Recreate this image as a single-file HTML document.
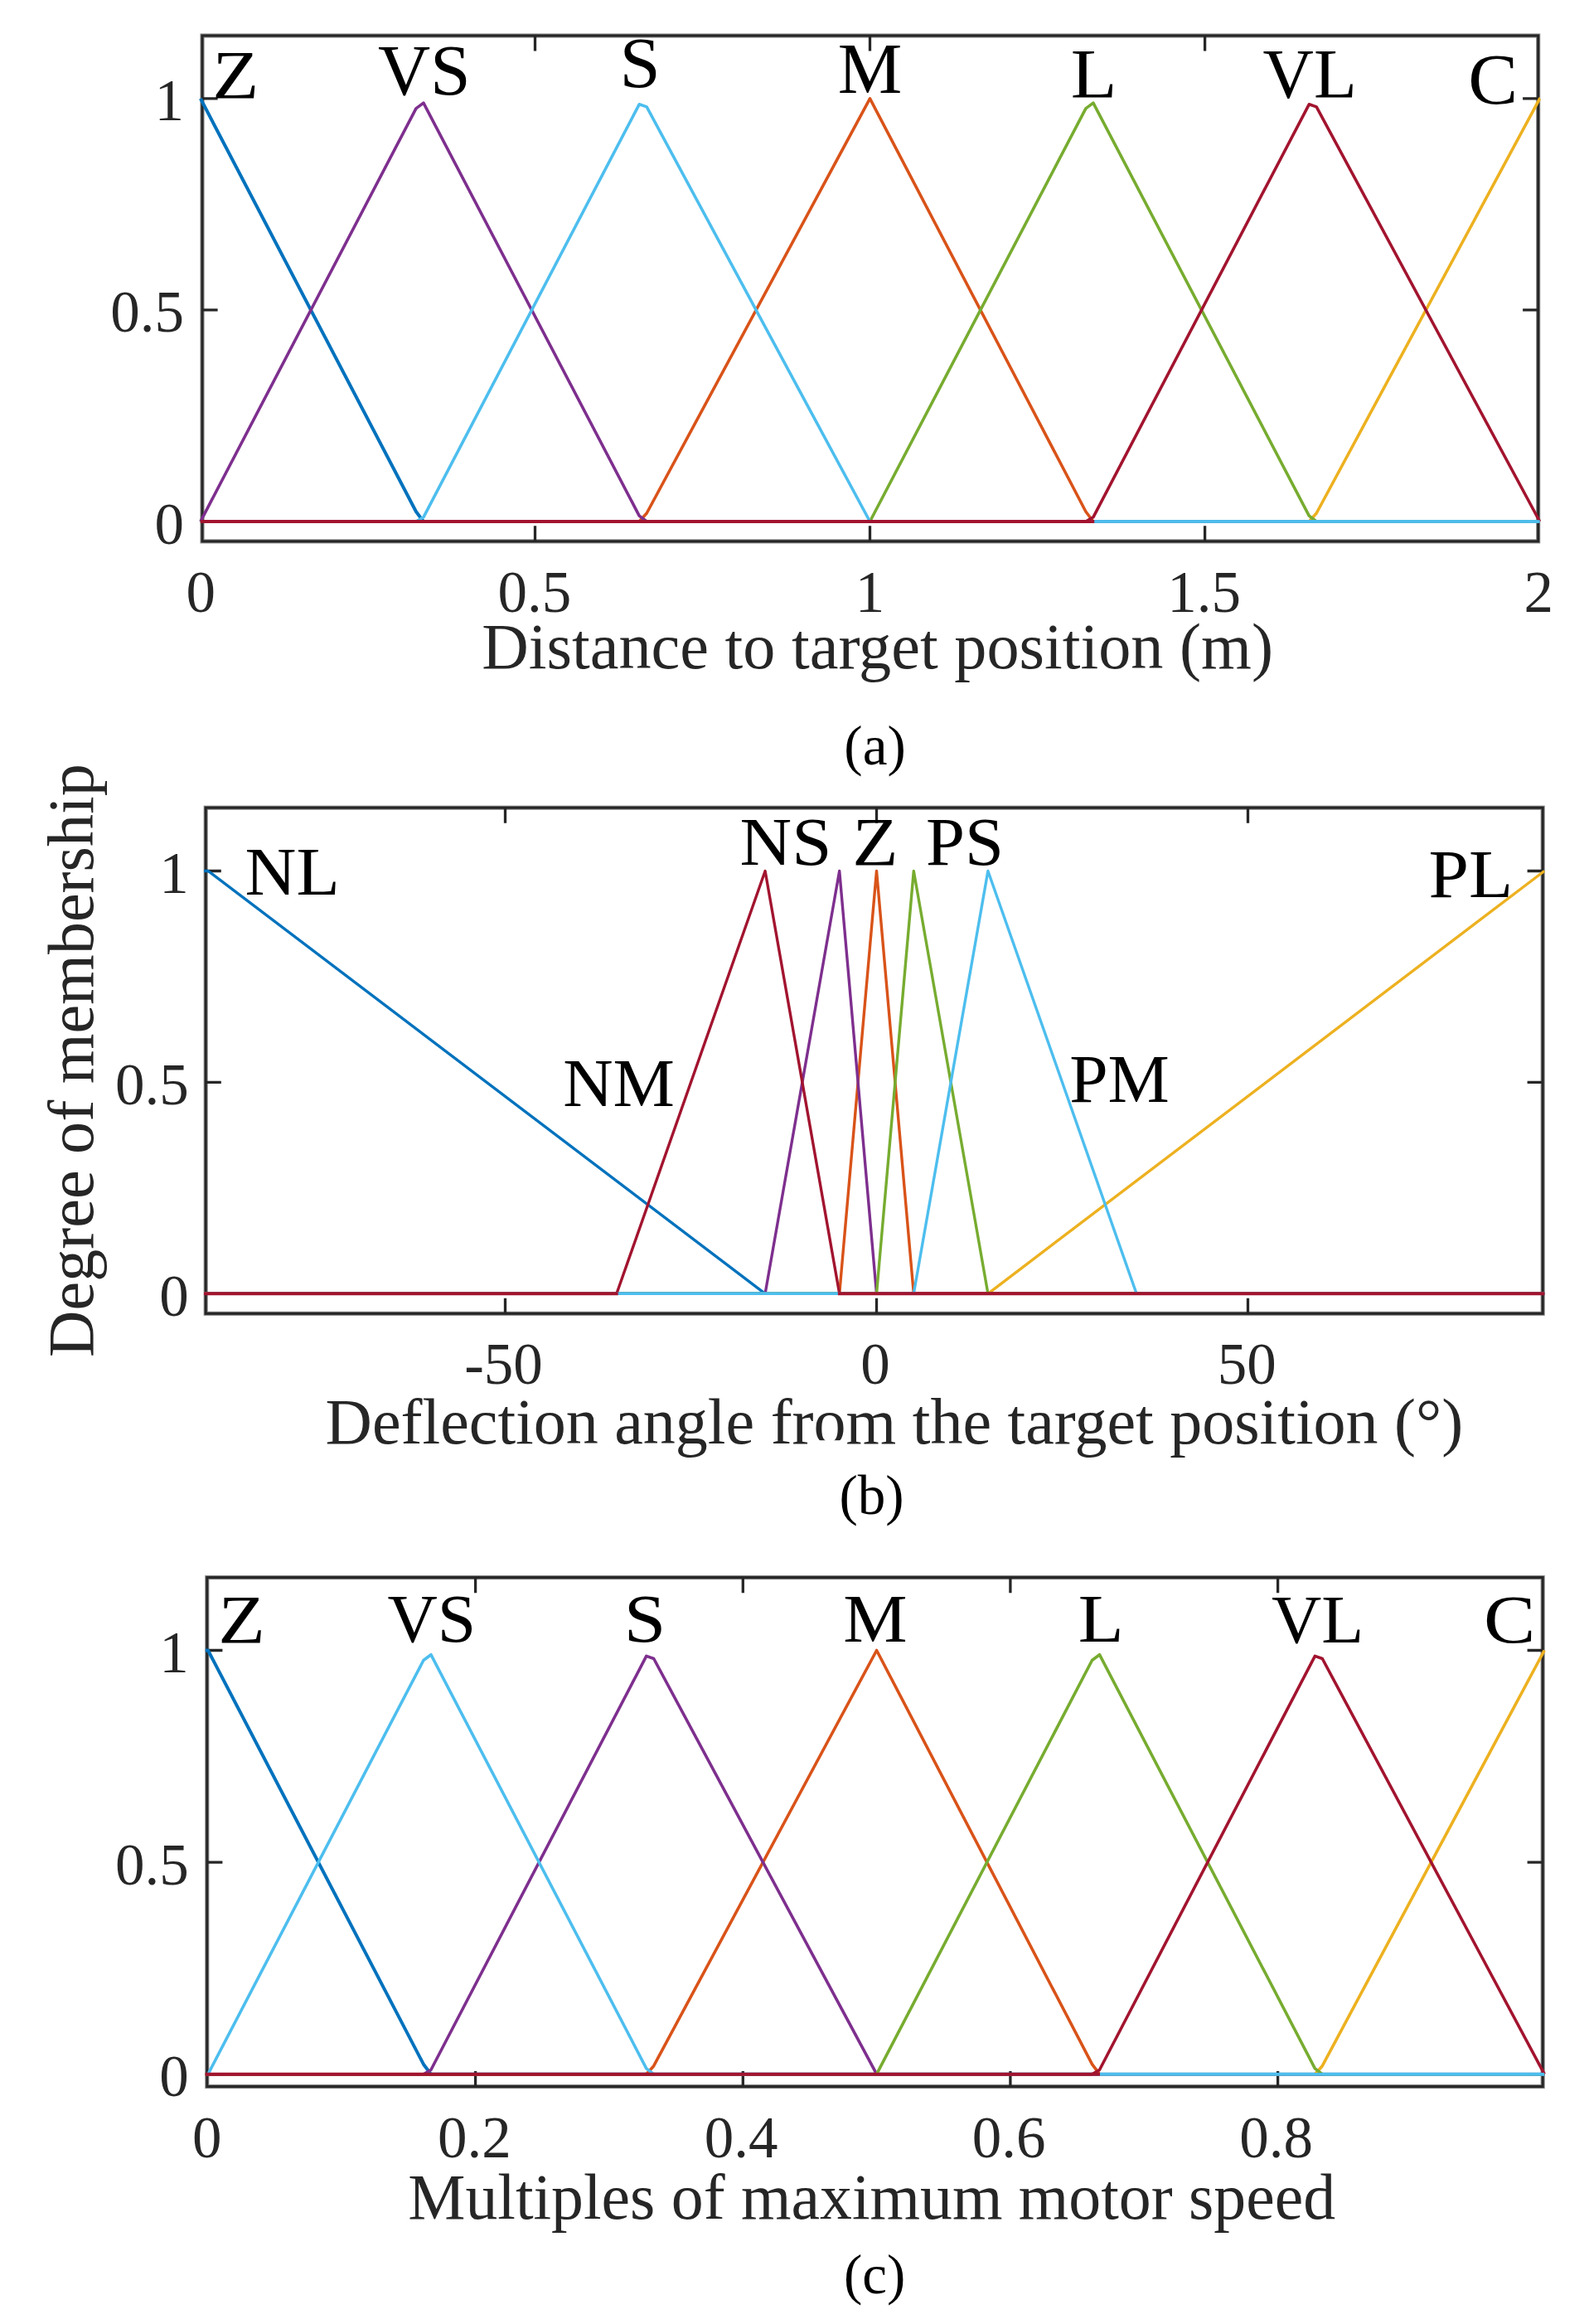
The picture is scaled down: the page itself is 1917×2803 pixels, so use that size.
<!DOCTYPE html>
<html lang="en"><head><meta charset="utf-8"><title>Membership functions</title>
<style>html,body{margin:0;padding:0;background:#fff}body{width:1917px;height:2803px;overflow:hidden}</style></head>
<body>
<svg width="1917" height="2803" viewBox="0 0 1917 2803" style="display:block;font-family:'Liberation Serif',serif">
<rect width="1917" height="2803" fill="#fff"/>
<g fill="none">
<rect x="244.0" y="43" width="1611.7" height="609.9" stroke="#858585" stroke-width="5.1"/>
<rect x="244.0" y="43" width="1611.7" height="609.9" stroke="#262626" stroke-width="3.0"/>
<path stroke="#262626" stroke-width="3.3" d="M645.5,652.9v-18.6M645.5,43v18.6M1049.5,652.9v-18.6M1049.5,43v18.6M1453.6,652.9v-18.6M1453.6,43v18.6M244.0,629.0h18.6M1855.7,629.0h-18.6M244.0,373.9h18.6M1855.7,373.9h-18.6M244.0,118.9h18.6M1855.7,118.9h-18.6"/>
</g>
<g fill="none" stroke-width="3.6" stroke-linejoin="round" stroke-linecap="butt">
<polyline stroke="#0072BD" stroke-width="4.0" points="241.9,118.9 501.9,617.0 510.9,629.0 1857.6,629.0 1857.8,629.0"/>
<polyline stroke="#D95319" points="241.9,629.0 771.2,629.0 780.2,619.0 1049.5,118.9 1309.9,617.0 1318.9,629.0 1857.6,629.0 1857.8,629.0"/>
<polyline stroke="#EDB120" points="241.9,629.0 1579.3,629.0 1588.2,619.0 1857.6,118.9 1857.8,118.9"/>
<polyline stroke="#7E2F8E" points="241.9,629.0 501.9,130.9 510.9,124.1 771.2,622.1 780.2,629.0 1857.6,629.0 1857.8,629.0"/>
<polyline stroke="#77AC30" points="241.9,629.0 1049.5,629.0 1309.9,130.9 1318.9,124.1 1579.3,622.1 1588.2,629.0 1857.6,629.0 1857.8,629.0"/>
<polyline stroke="#4DBEEE" points="241.9,629.0 501.9,629.0 510.9,623.8 771.2,125.8 780.2,128.9 1049.5,629.0 1857.6,629.0 1857.8,629.0"/>
<polyline stroke="#A2142F" points="241.9,629.0 1309.9,629.0 1318.9,623.8 1579.3,125.8 1588.2,128.9 1857.6,629.0 1857.8,629.0"/>
</g>
<path d="M1316.2,629.0H1857.8" stroke="#4DBEEE" stroke-width="3.6" fill="none"/>
<path d="M241.9,629.0H1320.2" stroke="#A2142F" stroke-width="4.0" fill="none"/>
<text x="224.55" y="738.20" font-size="71" fill="#262626">0</text>
<text x="600.52" y="738.20" font-size="71" fill="#262626">0.5</text>
<text x="1031.78" y="738.20" font-size="71" fill="#262626">1</text>
<text x="1408.35" y="738.20" font-size="71" fill="#262626">1.5</text>
<text x="1838.56" y="738.20" font-size="71" fill="#262626">2</text>
<text x="222.10" y="655.50" font-size="71" fill="#262626" text-anchor="end">0</text>
<text x="222.10" y="400.45" font-size="71" fill="#262626" text-anchor="end">0.5</text>
<text x="222.10" y="145.40" font-size="71" fill="#262626" text-anchor="end">1</text>
<text transform="translate(284.30,117.50) scale(1.0990,1)" x="-25.47" y="0" font-size="83.5" fill="#000">Z</text>
<text transform="translate(509.70,113.60) scale(1.0000,1)" x="-53.81" y="0" font-size="87.5" fill="#000">VS</text>
<text transform="translate(772.30,105.30) scale(1.0122,1)" x="-24.50" y="0" font-size="87.5" fill="#000">S</text>
<text transform="translate(1049.60,112.00) scale(1.0143,1)" x="-38.27" y="0" font-size="86" fill="#000">M</text>
<text transform="translate(1318.25,117.50) scale(1.0875,1)" x="-24.36" y="0" font-size="84" fill="#000">L</text>
<text transform="translate(1577.90,118.20) scale(1.0110,1)" x="-53.76" y="0" font-size="84" fill="#000">VL</text>
<text transform="translate(1800.40,124.70) scale(1.0325,1)" x="-28.28" y="0" font-size="87" fill="#000">C</text>
<text x="581.25" y="806.30" font-size="78.27" fill="#262626">Distance to target position (m)</text>
<text x="1018.37" y="921.50" font-size="67" fill="#000">(a)</text>
<g fill="none">
<rect x="248.2" y="974.2" width="1613.0" height="610.1" stroke="#858585" stroke-width="5.1"/>
<rect x="248.2" y="974.2" width="1613.0" height="610.1" stroke="#262626" stroke-width="3.0"/>
<path stroke="#262626" stroke-width="3.3" d="M609.5,1584.3v-18.6M609.5,974.2v18.6M1057.5,1584.3v-18.6M1057.5,974.2v18.6M1505.5,1584.3v-18.6M1505.5,974.2v18.6M248.2,1560.3h18.6M1861.2,1560.3h-18.6M248.2,1305.4h18.6M1861.2,1305.4h-18.6M248.2,1050.5h18.6M1861.2,1050.5h-18.6"/>
</g>
<g fill="none" stroke-width="3.4" stroke-linejoin="round" stroke-linecap="butt">
<polyline stroke="#0072BD" points="246.1,1050.5 251.1,1050.5 923.1,1560.3 1863.2,1560.3"/>
<polyline stroke="#D95319" points="246.1,1560.3 251.1,1560.3 1012.7,1560.3 1057.5,1050.5 1102.3,1560.3 1863.2,1560.3"/>
<polyline stroke="#EDB120" points="246.1,1560.3 251.1,1560.3 1191.9,1560.3 1863.2,1050.5"/>
<polyline stroke="#7E2F8E" points="246.1,1560.3 251.1,1560.3 923.1,1560.3 1012.7,1050.5 1057.5,1560.3 1863.2,1560.3"/>
<polyline stroke="#77AC30" points="246.1,1560.3 251.1,1560.3 1057.5,1560.3 1102.3,1050.5 1191.9,1560.3 1863.2,1560.3"/>
<polyline stroke="#4DBEEE" points="246.1,1560.3 251.1,1560.3 1102.3,1560.3 1191.9,1050.5 1371.1,1560.3 1863.2,1560.3"/>
<polyline stroke="#A2142F" points="246.1,1560.3 251.1,1560.3 743.9,1560.3 923.1,1050.5 1012.7,1560.3 1863.2,1560.3"/>
</g>
<path d="M743.9,1560.3H1012.7" stroke="#4DBEEE" stroke-width="3.4" fill="none"/>
<path d="M246.1,1560.3H745.7" stroke="#A2142F" stroke-width="3.8" fill="none"/>
<path d="M1010.9,1560.3H1863.2" stroke="#A2142F" stroke-width="3.8" fill="none"/>
<text x="560.18" y="1668.80" font-size="71" fill="#262626">-50</text>
<text x="1038.25" y="1668.80" font-size="71" fill="#262626">0</text>
<text x="1468.79" y="1668.80" font-size="71" fill="#262626">50</text>
<text x="227.80" y="1586.80" font-size="71" fill="#262626" text-anchor="end">0</text>
<text x="227.80" y="1331.90" font-size="71" fill="#262626" text-anchor="end">0.5</text>
<text x="227.80" y="1077.00" font-size="71" fill="#262626" text-anchor="end">1</text>
<text transform="translate(351.20,1078.60) scale(1.0257,1)" x="-54.27" y="0" font-size="83.5" fill="#000">NL</text>
<text transform="translate(746.50,1334.30) scale(1.0014,1)" x="-67.22" y="0" font-size="83.5" fill="#000">NM</text>
<text transform="translate(946.80,1042.70) scale(1.0386,1)" x="-52.19" y="0" font-size="83.5" fill="#000">NS</text>
<text transform="translate(1055.80,1042.70) scale(1.0849,1)" x="-25.47" y="0" font-size="83.5" fill="#000">Z</text>
<text transform="translate(1162.60,1042.70) scale(1.0121,1)" x="-45.09" y="0" font-size="83.5" fill="#000">PS</text>
<text transform="translate(1350.25,1329.00) scale(1.0000,1)" x="-60.12" y="0" font-size="83.5" fill="#000">PM</text>
<text transform="translate(1773.10,1081.60) scale(1.0446,1)" x="-47.60" y="0" font-size="83.5" fill="#000">PL</text>
<text x="392.56" y="1740.90" font-size="78.02" fill="#262626">Deflection angle from the target position (°)</text>
<text x="1012.54" y="1825.80" font-size="67" fill="#000">(b)</text>
<g fill="none">
<rect x="249.8" y="1902.6" width="1611.4" height="614.0" stroke="#858585" stroke-width="5.1"/>
<rect x="249.8" y="1902.6" width="1611.4" height="614.0" stroke="#262626" stroke-width="3.0"/>
<path stroke="#262626" stroke-width="3.3" d="M573.6,2516.6v-18.6M573.6,1902.6v18.6M896.3,2516.6v-18.6M896.3,1902.6v18.6M1218.9,2516.6v-18.6M1218.9,1902.6v18.6M1541.6,2516.6v-18.6M1541.6,1902.6v18.6M249.8,2501.7h18.6M1861.2,2501.7h-18.6M249.8,2246.1h18.6M1861.2,2246.1h-18.6M249.8,1990.5h18.6M1861.2,1990.5h-18.6"/>
</g>
<g fill="none" stroke-width="3.6" stroke-linejoin="round" stroke-linecap="butt">
<polyline stroke="#0072BD" stroke-width="4.0" points="247.8,1990.5 251.0,1990.5 510.9,2489.7 519.9,2501.7 1863.2,2501.7"/>
<polyline stroke="#D95319" points="247.8,2501.7 251.0,2501.7 779.8,2501.7 788.7,2491.7 1057.6,1990.5 1317.5,2489.7 1326.5,2501.7 1863.2,2501.7"/>
<polyline stroke="#EDB120" points="247.8,2501.7 251.0,2501.7 1586.4,2501.7 1595.3,2491.7 1863.2,1990.5"/>
<polyline stroke="#7E2F8E" points="247.8,2501.7 251.0,2501.7 510.9,2501.7 519.9,2496.5 779.8,1997.4 788.7,2000.5 1057.6,2501.7 1863.2,2501.7"/>
<polyline stroke="#77AC30" points="247.8,2501.7 251.0,2501.7 1057.6,2501.7 1317.5,2002.5 1326.5,1995.7 1586.4,2494.8 1595.3,2501.7 1863.2,2501.7"/>
<polyline stroke="#4DBEEE" points="247.8,2501.7 251.0,2501.7 510.9,2002.5 519.9,1995.7 779.8,2494.8 788.7,2501.7 1863.2,2501.7"/>
<polyline stroke="#A2142F" points="247.8,2501.7 251.0,2501.7 1317.5,2501.7 1326.5,2496.5 1586.4,1997.4 1595.3,2000.5 1863.2,2501.7"/>
</g>
<path d="M1323.8,2501.7H1863.2" stroke="#4DBEEE" stroke-width="3.6" fill="none"/>
<path d="M247.8,2501.7H1327.0" stroke="#A2142F" stroke-width="4.0" fill="none"/>
<text x="232.05" y="2602.30" font-size="71" fill="#262626">0</text>
<text x="527.94" y="2602.30" font-size="71" fill="#262626">0.2</text>
<text x="849.70" y="2602.30" font-size="71" fill="#262626">0.4</text>
<text x="1172.69" y="2602.30" font-size="71" fill="#262626">0.6</text>
<text x="1495.33" y="2602.30" font-size="71" fill="#262626">0.8</text>
<text x="227.80" y="2528.20" font-size="71" fill="#262626" text-anchor="end">0</text>
<text x="227.80" y="2272.60" font-size="71" fill="#262626" text-anchor="end">0.5</text>
<text x="227.80" y="2017.00" font-size="71" fill="#262626" text-anchor="end">1</text>
<text transform="translate(291.55,1980.80) scale(1.1107,1)" x="-25.47" y="0" font-size="83.5" fill="#000">Z</text>
<text transform="translate(518.80,1980.30) scale(1.0000,1)" x="-51.35" y="0" font-size="83.5" fill="#000">VS</text>
<text transform="translate(778.30,1980.30) scale(1.0893,1)" x="-23.38" y="0" font-size="83.5" fill="#000">S</text>
<text transform="translate(1055.90,1980.30) scale(1.0418,1)" x="-37.16" y="0" font-size="83.5" fill="#000">M</text>
<text transform="translate(1326.80,1980.30) scale(1.0778,1)" x="-24.22" y="0" font-size="83.5" fill="#000">L</text>
<text transform="translate(1587.40,1980.80) scale(1.0000,1)" x="-53.44" y="0" font-size="83.5" fill="#000">VL</text>
<text transform="translate(1820.50,1981.30) scale(1.1200,1)" x="-27.14" y="0" font-size="83.5" fill="#000">C</text>
<text x="492.27" y="2676.30" font-size="77.78" fill="#262626">Multiples of maximum motor speed</text>
<text x="1018.02" y="2766.00" font-size="67" fill="#000">(c)</text>
<rect x="987" y="1737.2" width="27" height="7" fill="#fff"/>
<text transform="translate(112,1636.9) rotate(-90)" font-size="78.11" fill="#262626">Degree of membership</text>
</svg>
</body></html>
